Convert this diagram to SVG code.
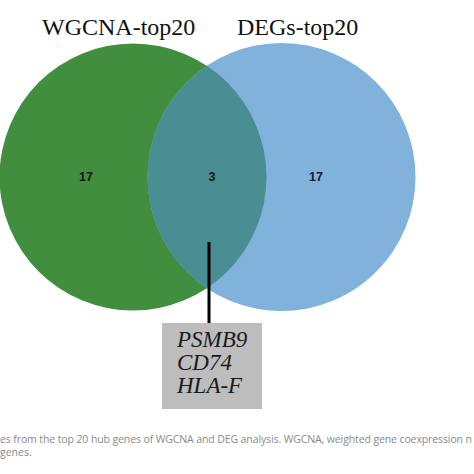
<svg xmlns="http://www.w3.org/2000/svg" width="474" height="474" viewBox="0 0 474 474">
<style>
.title{font-family:"Liberation Serif","Times New Roman",serif;font-size:24px;fill:#111}
.num{font-family:"Liberation Sans",Arial,sans-serif;font-size:12.5px;font-weight:bold;text-anchor:middle}
.gene{font-family:"Liberation Serif","Times New Roman",serif;font-size:23px;font-style:italic;fill:#1a1a1a}
.cap{font-family:"Open Sans","Liberation Sans",sans-serif;font-size:10.5px;fill:#8a8a8a}
</style>
<defs>
<clipPath id="clipG"><circle cx="133" cy="177" r="133.5"/></clipPath>
</defs>
<rect width="474" height="474" fill="#fff"/>
<g id="set-wgcna">
<circle cx="133" cy="177" r="133.5" fill="#428E3F"/>
<text class="title" x="42" y="35">WGCNA-top20</text>
<text class="num" x="86" y="181" fill="#0d1a0d">17</text>
</g>
<g id="set-degs">
<circle cx="281.5" cy="177" r="134" fill="#80B2DC"/>
<text class="title" x="237" y="35">DEGs-top20</text>
<text class="num" x="316" y="181" fill="#0d1a33">17</text>
</g>
<g id="overlap">
<circle cx="281.5" cy="177" r="134" fill="#4A8E93" clip-path="url(#clipG)"/>
<text class="num" x="212" y="181" fill="#0d1a1a">3</text>
</g>
<g id="connectors">
<line x1="209" y1="242" x2="209" y2="324" stroke="#000" stroke-width="3"/>
</g>
<g id="genes">
<rect x="162" y="323" width="100" height="86" fill="#BDBDBD"/>
<text class="gene" x="177" y="347">PSMB9</text>
<text class="gene" x="177" y="370">CD74</text>
<text class="gene" x="177" y="393">HLA-F</text>
</g>
<text class="cap" x="0" y="443" textLength="472" lengthAdjust="spacing">es from the top 20 hub genes of WGCNA and DEG analysis. WGCNA, weighted gene coexpression n</text>
<text class="cap" x="0" y="456">genes.</text>
</svg>
